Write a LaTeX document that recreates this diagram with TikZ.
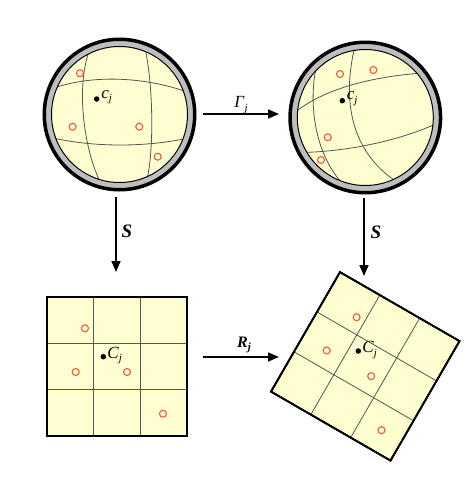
\documentclass[tikz,border=0pt]{standalone}
\usepackage{fontspec}
\setmainfont{Liberation Serif}
\usetikzlibrary{arrows.meta}
\definecolor{yel}{RGB}{255,254,208}
\definecolor{ringgray}{RGB}{190,190,190}
\definecolor{ptred}{RGB}{238,90,62}
\definecolor{gridc}{RGB}{85,85,85}
\newcommand\mysubj{\raisebox{-0.45ex}{\fontsize{11}{11}\selectfont\itshape j}}
\begin{document}
\begin{tikzpicture}[x=1pt,y=-1pt,
  smallpt/.style={circle,draw=ptred,line width=1.1pt,minimum size=7pt,inner sep=0pt},
  cdot/.style={circle,fill=black,minimum size=5.5pt,inner sep=0pt},
  gl/.style={draw=gridc,line width=0.8pt},
  arr/.style={line width=1.6pt,-{Triangle[length=11pt,width=9pt]}},
  lab/.style={font=\fontsize{17}{17}\selectfont, inner sep=0pt},
  sq/.style={draw=black,line width=1.8pt,fill=yel}]
\useasboundingbox (0,0) rectangle (474,477);

% ---------- left sphere ----------
\coordinate (s1) at (119.5,114.5);
\fill[ringgray] (s1) circle (74pt);
\draw[line width=3.5pt] (s1) circle (75.25pt);
\fill[yel] (s1) circle (68pt);
\begin{scope}
  \clip (s1) circle (68pt);
  \draw[gl] (92.5,43) .. controls (74.1,80) and (83.3,150) .. (101.7,185);
  \draw[gl] (144.3,45) .. controls (152.9,80) and (154.8,150) .. (146.2,183);
  \draw[gl] (46,91) .. controls (90,72.7) and (150,76.7) .. (195,95);
  \draw[gl] (45,136) .. controls (90,148) and (150,148) .. (197,136);
\end{scope}
\draw[line width=1pt] (s1) circle (68pt);
\node[smallpt] (p11) at (80,73.3) {};
\node[smallpt] (p12) at (72.7,126.7) {};
\node[smallpt] (p13) at (139.3,126.7) {};
\node[smallpt] (p14) at (157.7,156.7) {};
\node[cdot] (d1) at (96.7,99) {};
\node[lab,anchor=west] (l1) at ([xshift=1.5pt,yshift=2pt]d1.east) {\textit{c}\mysubj};

% ---------- right sphere ----------
\coordinate (s2) at (365.3,117.5);
\fill[ringgray] (s2) circle (74pt);
\draw[line width=3.5pt] (s2) circle (75.25pt);
\fill[yel] (s2) circle (68pt);
\begin{scope}
  \clip (s2) circle (68pt);
  \draw[gl] (318,60) .. controls (308,95) and (312,150) .. (342,183);
  \draw[gl] (356,42) .. controls (342,95) and (348,150) .. (397,182);
  \draw[gl] (292,115) .. controls (320,90) and (370,76) .. (430,72.5);
  \draw[gl] (300,152.5) .. controls (340,152) and (395,143) .. (439,122.5);
\end{scope}
\draw[line width=1pt] (s2) circle (68pt);
\node[smallpt] (p21) at (340,74) {};
\node[smallpt] (p22) at (373.3,70) {};
\node[smallpt] (p23) at (327.7,137.3) {};
\node[smallpt] (p24) at (321,160) {};
\node[cdot] (d2) at (342.3,100.7) {};
\node[lab,anchor=west] (l2) at ([xshift=1.5pt,yshift=2pt]d2.east) {\textit{c}\mysubj};

% ---------- left square ----------
\begin{scope}[shift={(117,366.5)}]
  \draw[sq] (-70,-69.5) rectangle (70,69.5);
  \draw[gl] (-23.3,-69.5) -- (-23.3,69.5) (23.3,-69.5) -- (23.3,69.5)
            (-70,-23.2) -- (70,-23.2) (-70,23.2) -- (70,23.2);
  \draw[line width=1.8pt] (-70,-69.5) rectangle (70,69.5);
  \node[smallpt] (q11) at (-32,-38.2) {};
  \node[smallpt] (q12) at (-41.3,5.5) {};
  \node[smallpt] (q13) at (10,5.5) {};
  \node[smallpt] (q14) at (46,47.2) {};
  \node[cdot] (d3) at (-13.7,-9.8) {};
\end{scope}
\node[lab,anchor=west] (l3) at ([xshift=1pt,yshift=1pt]d3.east) {\textit{C}\mysubj};

% ---------- rotated square ----------
\begin{scope}[shift={(365.25,366.35)},rotate=-30]
  \draw[sq] (-69,-69) rectangle (69,69);
  \draw[gl] (-23,-69) -- (-23,69) (23,-69) -- (23,69)
            (-69,-23) -- (69,-23) (-69,23) -- (69,23);
  \draw[line width=1.8pt] (-69,-69) rectangle (69,69);
  \node[smallpt] (q21) at (-32,-38.2) {};
  \node[smallpt] (q22) at (-41.3,5.5) {};
  \node[smallpt] (q23) at (10,5.5) {};
  \node[smallpt] (q24) at (46,47.2) {};
  \node[cdot] (d4) at (-13.7,-9.8) {};
\end{scope}
\node[lab,anchor=west] (l4) at ([xshift=1pt,yshift=1pt]d4.east) {\textit{C}\mysubj};

% ---------- arrows ----------
\coordinate (g0) at (203,114);
\coordinate (g1) at (279,114);
\draw[arr] (g0) -- (g1);
\node[lab] (lg) at (241,105) {\textit{Γ}\mysubj};

\coordinate (r0) at (203,357);
\coordinate (r1) at (279,357);
\draw[arr] (r0) -- (r1);
\node[lab,font=\fontsize{16}{16}\selectfont\bfseries] (lr) at (244,345) {\textit{R}\mysubj};

\coordinate (sa0) at (116,197);
\coordinate (sa1) at (116,272);
\draw[arr] (sa0) -- (sa1);
\node[lab,font=\fontsize{19}{19}\selectfont\bfseries] (ls1) at (127,231) {\textit{S}};

\coordinate (sb0) at (364,198);
\coordinate (sb1) at (364,276);
\draw[arr] (sb0) -- (sb1);
\node[lab,font=\fontsize{19}{19}\selectfont\bfseries] (ls2) at (376,232) {\textit{S}};
\end{tikzpicture}
\end{document}
